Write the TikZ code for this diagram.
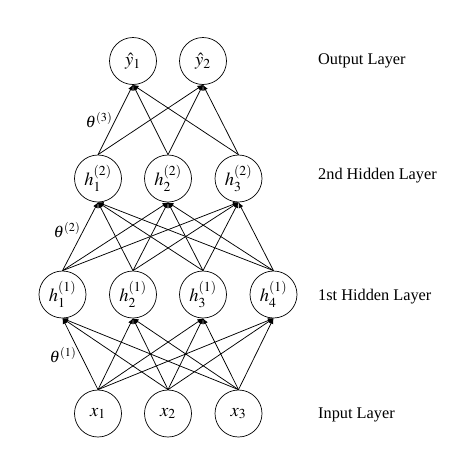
\documentclass[tikz,border=0pt]{standalone}
\usepackage{mathptmx}
\usepackage{fontspec}
\setmainfont{Liberation Serif}
\usetikzlibrary{arrows.meta}
\begin{document}
\begin{tikzpicture}[x=1pt,y=-1pt,
  neuron/.style={circle,draw,line width=0.7pt,minimum size=47pt,inner sep=0pt,font=\fontsize{18.5}{20}\selectfont},
  layerlabel/.style={anchor=west,inner sep=0pt,font=\fontsize{16.3}{18}\selectfont},
  wlabel/.style={inner sep=0pt,font=\fontsize{16.5}{18}\selectfont},
  conn/.style={line width=0.75pt,-{Latex[length=5.5pt,width=5pt]}}]
\useasboundingbox (0,0) rectangle (474,474);
% output
\node[neuron] (y1) at (133,61) {$\hat{y}_1$};
\node[neuron] (y2) at (203,61) {$\hat{y}_2$};
% hidden 2
\node[neuron] (a1) at (98,178.5) {$h^{(2)}_1$};
\node[neuron] (a2) at (168,178.5) {$h^{(2)}_2$};
\node[neuron] (a3) at (238.5,178.5) {$h^{(2)}_3$};
% hidden 1
\node[neuron] (b1) at (62.5,294.5) {$h^{(1)}_1$};
\node[neuron] (b2) at (133,294.5) {$h^{(1)}_2$};
\node[neuron] (b3) at (203,294.5) {$h^{(1)}_3$};
\node[neuron] (b4) at (273.5,294.5) {$h^{(1)}_4$};
% input
\node[neuron] (x1) at (98,413.5) {$x_1$};
\node[neuron] (x2) at (168,413.5) {$x_2$};
\node[neuron] (x3) at (238.5,413.5) {$x_3$};
% connections
\foreach \s in {x1,x2,x3}
  \foreach \t in {b1,b2,b3,b4}
    \draw[conn] (\s.north) -- (\t.south);
\foreach \s in {b1,b2,b3,b4}
  \foreach \t in {a1,a2,a3}
    \draw[conn] (\s.north) -- (\t.south);
\foreach \s in {a1,a2,a3}
  \foreach \t in {y1,y2}
    \draw[conn] (\s.north) -- (\t.south);
% weight labels
\node[wlabel] (t3) at (99,120) {$\theta^{(3)}$};
\node[wlabel] (t2) at (67,230) {$\theta^{(2)}$};
\node[wlabel] (t1) at (63,355) {$\theta^{(1)}$};
% layer labels
\node[layerlabel] (lo) at (318,61) {Output Layer};
\node[layerlabel] (l2) at (318,176) {2nd Hidden Layer};
\node[layerlabel] (l1) at (318,297) {1st Hidden Layer};
\node[layerlabel] (li) at (318,415) {Input Layer};
\end{tikzpicture}
\end{document}
